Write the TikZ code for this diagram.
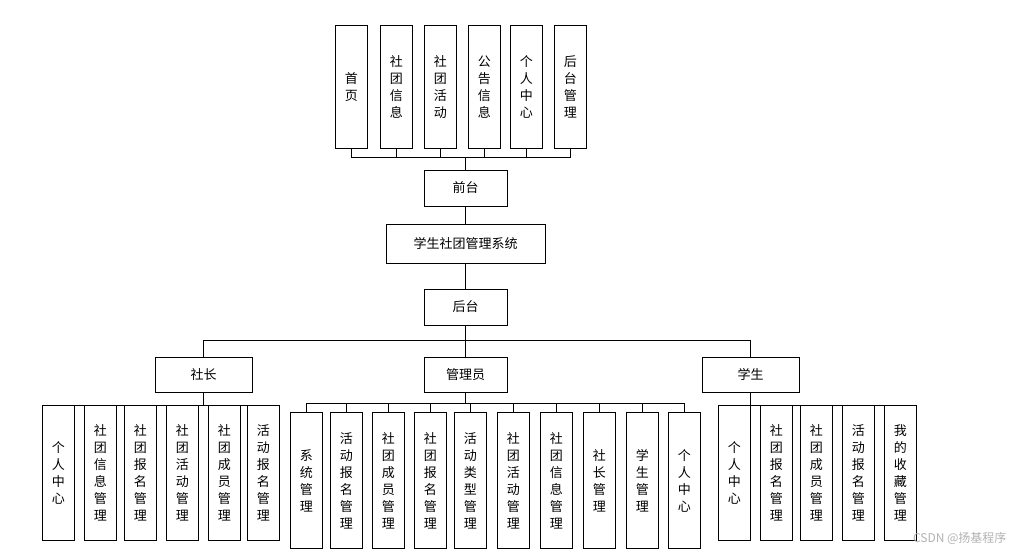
\documentclass[tikz,border=0pt]{standalone}
\usepackage{fontspec}
\setmainfont{Noto Sans CJK SC}
\begin{document}
\begin{tikzpicture}[x=1pt,y=-1pt,
  box/.style={draw,line width=0.9pt,fill=white,inner sep=0pt,font=\fontsize{13}{17}\selectfont},
  vbox/.style={box,align=center,minimum width=32pt},
  ln/.style={line width=0.9pt}]
\useasboundingbox (0,0) rectangle (1023,556);
\newcommand{\vb}[5]{\node[vbox,minimum height=#3pt,anchor=north west] (#1) at (#2,#4) {#5};}
% top
\vb{t1}{335}{123}{25}{首\\页}
\vb{t2}{380}{123}{25}{社\\团\\信\\息}
\vb{t3}{424}{123}{25}{社\\团\\活\\动}
\vb{t4}{468}{123}{25}{公\\告\\信\\息}
\vb{t5}{510}{123}{25}{个\\人\\中\\心}
\vb{t6}{554}{123}{25}{后\\台\\管\\理}
\node[box,minimum width=83pt,minimum height=36pt] (qt) at (465.5,188) {前台};
\node[box,minimum width=159pt,minimum height=39pt] (sys) at (465.5,243.5) {学生社团管理系统};
\node[box,minimum width=83pt,minimum height=36pt] (ht) at (465.5,307) {后台};
\node[box,minimum width=97pt,minimum height=35pt] (sz) at (203.5,374.5) {社长};
\node[box,minimum width=83pt,minimum height=35pt] (gl) at (465.5,374.5) {管理员};
\node[box,minimum width=97pt,minimum height=35pt] (xs) at (750.5,374.5) {学生};
\coordinate (jt) at (465.5,157);
\foreach \n in {t1,t2,t3,t4,t5,t6}{\draw[ln] (\n.south) |- (jt);}
\draw[ln] (jt) -- (qt.north);
\draw[ln] (qt) -- (sys);
\draw[ln] (sys) -- (ht);
\coordinate (jb) at (465.5,340);
\draw[ln] (ht.south) -- (jb);
\foreach \n in {sz,gl,xs}{\draw[ln] (jb) -| (\n.north);}
% shezhang
\vb{a1}{42}{135}{405}{个\\人\\中\\心}
\vb{a2}{84}{135}{405}{社\\团\\信\\息\\管\\理}
\vb{a3}{124}{135}{405}{社\\团\\报\\名\\管\\理}
\vb{a4}{166}{135}{405}{社\\团\\活\\动\\管\\理}
\vb{a5}{208}{135}{405}{社\\团\\成\\员\\管\\理}
\vb{a6}{247}{135}{405}{活\\动\\报\\名\\管\\理}
\coordinate (ja) at (203.5,405);
\draw[ln] (sz.south) -- (ja);
\foreach \n in {a1,a2,a3,a4,a5,a6}{\draw[ln] (\n.north) -- (ja);}
% guanliyuan
\vb{b1}{290}{136}{412}{系\\统\\管\\理}
\vb{b2}{330}{136}{412}{活\\动\\报\\名\\管\\理}
\vb{b3}{372}{136}{412}{社\\团\\成\\员\\管\\理}
\vb{b4}{414}{136}{412}{社\\团\\报\\名\\管\\理}
\vb{b5}{454}{136}{412}{活\\动\\类\\型\\管\\理}
\vb{b6}{497}{136}{412}{社\\团\\活\\动\\管\\理}
\vb{b7}{540}{136}{412}{社\\团\\信\\息\\管\\理}
\vb{b8}{583}{136}{412}{社\\长\\管\\理}
\vb{b9}{626}{136}{412}{学\\生\\管\\理}
\vb{b10}{668}{136}{412}{个\\人\\中\\心}
\coordinate (jg) at (465.5,403);
\draw[ln] (gl.south) -- (jg);
\foreach \n in {b1,b2,b3,b4,b5,b6,b7,b8,b9,b10}{\draw[ln] (\n.north) |- (jg);}
% xuesheng
\vb{c1}{718}{135}{405}{个\\人\\中\\心}
\vb{c2}{760}{135}{405}{社\\团\\报\\名\\管\\理}
\vb{c3}{800}{135}{405}{社\\团\\成\\员\\管\\理}
\vb{c4}{842}{135}{405}{活\\动\\报\\名\\管\\理}
\vb{c5}{884}{135}{405}{我\\的\\收\\藏\\管\\理}
\coordinate (jx) at (750.5,405);
\draw[ln] (xs.south) -- (jx);
\foreach \n in {c1,c2,c3,c4,c5}{\draw[ln] (\n.north) -- (jx);}
\node[text=gray!60,font=\fontsize{12}{14}\selectfont,anchor=east] (wm) at (1010,538) {CSDN @扬基程序};
\end{tikzpicture}
\end{document}
